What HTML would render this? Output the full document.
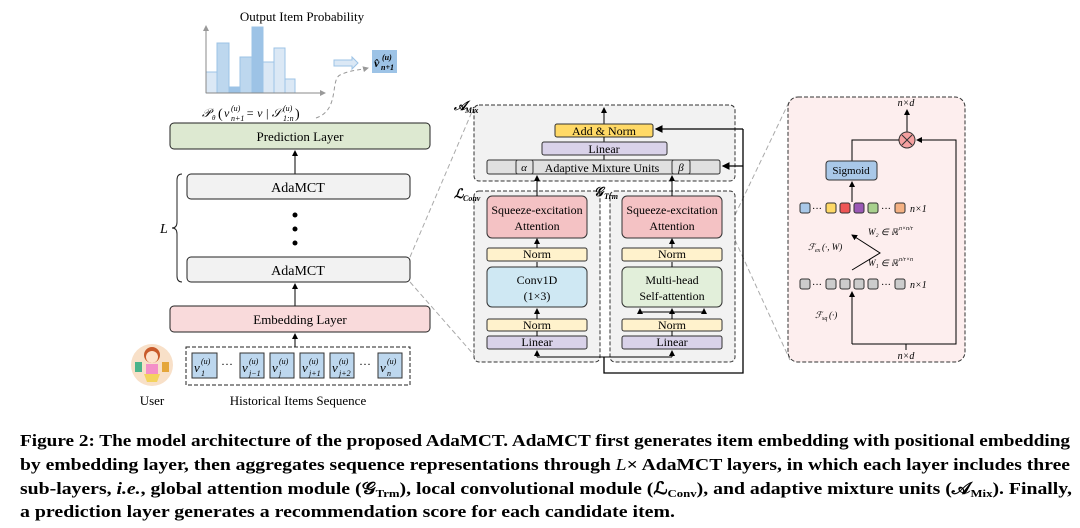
<!DOCTYPE html>
<html><head><meta charset="utf-8"><style>
html,body{margin:0;padding:0;background:#fff;}
svg{display:block;}
text{font-family:"Liberation Serif",serif;}
</style></head><body>
<svg width="1080" height="528" viewBox="0 0 1080 528" xmlns="http://www.w3.org/2000/svg">
<defs>
<marker id="ar" markerWidth="6" markerHeight="6" refX="5" refY="3" orient="auto"><path d="M0,0 L6,3 L0,6 z" fill="#000"/></marker>
<marker id="arg" markerWidth="6" markerHeight="6" refX="5" refY="3" orient="auto"><path d="M0,0 L6,3 L0,6 z" fill="#999"/></marker>
</defs>
<!-- chart -->
<text x="302" y="21" font-size="13" text-anchor="middle">Output Item Probability</text>
<g stroke="#9cc3e6" stroke-width="1">
<rect x="206" y="72" width="11" height="21" fill="#dbe8f5"/>
<rect x="217" y="43" width="12" height="50" fill="#bdd7ee"/>
<rect x="229" y="87" width="11" height="6" fill="#9dc3e6"/>
<rect x="240" y="57" width="12" height="36" fill="#bdd7ee"/>
<rect x="252" y="27" width="11" height="66" fill="#9dc3e6"/>
<rect x="263" y="62" width="11" height="31" fill="#dbe8f5"/>
<rect x="274" y="48" width="11" height="45" fill="#dbe8f5"/>
<rect x="285" y="79" width="10" height="14" fill="#dbe8f5"/>
</g>
<line x1="206" y1="93" x2="206" y2="26" stroke="#888" marker-end="url(#arg)"/>
<line x1="206" y1="93" x2="325" y2="93" stroke="#888" marker-end="url(#arg)"/>
<path d="M334,60 h18 v-3 l6,6 l-6,6 v-3 h-18z" fill="#dbe8f5" stroke="#9cc3e6"/>
<rect x="372" y="50" width="25" height="23" fill="#9dc3e6"/>
<g font-style="italic" font-weight="bold">
<text x="374" y="67" font-size="12">v̂</text>
<text x="382" y="60" font-size="8">(u)</text>
<text x="381" y="70" font-size="8">n+1</text>
</g>
<path d="M316,118 C340,110 330,80 340,75 S360,70 368,68" fill="none" stroke="#999" stroke-dasharray="4,3" marker-end="url(#arg)"/>
<g font-style="italic">
<text x="202" y="117" font-size="12">𝒫</text>
<text x="212" y="120" font-size="7">θ</text>
<text x="218" y="118" font-size="14" font-style="normal">(</text>
<text x="224" y="117" font-size="12">v</text>
<text x="231" y="111" font-size="8">(u)</text>
<text x="231" y="121" font-size="8">n+1</text>
<text x="246" y="117" font-size="12">= v | 𝒮</text>
<text x="283" y="111" font-size="8">(u)</text>
<text x="283" y="121" font-size="8">1:n</text>
<text x="295" y="118" font-size="14" font-style="normal">)</text>
</g>
<!-- stack -->
<rect x="170" y="123" width="260" height="26" rx="4" fill="#dde9d1" stroke="#222"/>
<text x="300" y="141" font-size="13" text-anchor="middle">Prediction Layer</text>
<line x1="295" y1="174" x2="295" y2="151" stroke="#000" marker-end="url(#ar)"/>
<rect x="187" y="174" width="223" height="25" rx="4" fill="#f2f2f2" stroke="#222"/>
<text x="298" y="192" font-size="14" text-anchor="middle">AdaMCT</text>
<circle cx="295" cy="215" r="2.5"/><circle cx="295" cy="229" r="2.5"/><circle cx="295" cy="243" r="2.5"/>
<rect x="187" y="257" width="223" height="25" rx="4" fill="#f2f2f2" stroke="#222"/>
<text x="298" y="275" font-size="14" text-anchor="middle">AdaMCT</text>
<path d="M182,174 q-5,0 -5,6 v42 q0,6 -5,6 q5,0 5,6 v42 q0,6 5,6" fill="none" stroke="#222"/>
<text x="160" y="233" font-size="14" font-style="italic">L</text>
<line x1="295" y1="306" x2="295" y2="284" stroke="#000" marker-end="url(#ar)"/>
<rect x="170" y="306" width="260" height="26" rx="4" fill="#f9dadb" stroke="#222"/>
<text x="300" y="324" font-size="13" text-anchor="middle">Embedding Layer</text>
<line x1="295" y1="347" x2="295" y2="334" stroke="#000" marker-end="url(#ar)"/>
<rect x="186" y="347" width="224" height="38" fill="none" stroke="#222" stroke-dasharray="4,2"/>
<g fill="#bdd7ee" stroke="#333">
<rect x="192" y="353" width="25" height="25"/><rect x="240" y="353" width="24" height="25"/><rect x="270" y="353" width="24" height="25"/><rect x="300" y="353" width="24" height="25"/><rect x="330" y="353" width="24" height="25"/><rect x="378" y="353" width="24" height="25"/>
</g>
<g font-style="italic">
<g font-size="13"><text x="194" y="372">v</text><text x="242" y="372">v</text><text x="272" y="372">v</text><text x="302" y="372">v</text><text x="332" y="372">v</text><text x="380" y="372">v</text></g>
<g font-size="8"><text x="201" y="364">(u)</text><text x="249" y="364">(u)</text><text x="279" y="364">(u)</text><text x="309" y="364">(u)</text><text x="339" y="364">(u)</text><text x="387" y="364">(u)</text></g>
<g font-size="8"><text x="201" y="376">1</text><text x="249" y="376">j−1</text><text x="279" y="376">j</text><text x="309" y="376">j+1</text><text x="339" y="376">j+2</text><text x="387" y="376">n</text></g>
</g>
<text x="221" y="368" font-size="12">···</text><text x="359" y="368" font-size="12">···</text>
<!-- user -->
<circle cx="152" cy="365" r="21" fill="#f8e0c8"/>
<circle cx="152" cy="355" r="8" fill="#c85a2a"/><circle cx="152" cy="357" r="6" fill="#fde2cc"/>
<rect x="146" y="364" width="12" height="10" fill="#f48fc8"/>
<rect x="135" y="362" width="7" height="10" fill="#4ab38a"/><rect x="162" y="362" width="7" height="10" fill="#e5a63a"/>
<path d="M144,374 h16 l-3,8 h-10z" fill="#f4d35e"/>
<text x="152" y="405" font-size="13" text-anchor="middle">User</text>
<text x="298" y="405" font-size="13" text-anchor="middle">Historical Items Sequence</text>
<!-- dashed zoom lines -->
<g stroke="#aaa" stroke-dasharray="5,3" fill="none">
<line x1="410" y1="257" x2="474" y2="107"/>
<line x1="410" y1="282" x2="474" y2="355"/>
<line x1="735" y1="215" x2="790" y2="100"/>
<line x1="735" y1="240" x2="790" y2="360"/>
</g>
<!-- middle -->
<rect x="474" y="105" width="261" height="76" rx="5" fill="#f2f2f2" stroke="#333" stroke-dasharray="4,2"/>
<rect x="474" y="191" width="126" height="171" rx="5" fill="#f2f2f2" stroke="#333" stroke-dasharray="4,2"/>
<rect x="610" y="191" width="125" height="171" rx="5" fill="#f2f2f2" stroke="#333" stroke-dasharray="4,2"/>
<g font-weight="bold" font-style="italic">
<text x="454" y="110" font-size="13">𝒜</text><text x="465" y="113" font-size="8">Mix</text>
<text x="454" y="198" font-size="13">ℒ</text><text x="463" y="201" font-size="8">Conv</text>
<text x="594" y="196" font-size="13">𝒢</text><text x="604" y="199" font-size="8">Trm</text>
</g>
<line x1="604" y1="125" x2="604" y2="108" stroke="#000" marker-end="url(#ar)"/>
<rect x="555" y="124" width="98" height="13" rx="2" fill="#ffd966" stroke="#333"/>
<text x="604" y="135" font-size="12" text-anchor="middle">Add &amp; Norm</text>
<line x1="604" y1="142" x2="604" y2="137" stroke="#000"/>
<rect x="542" y="142" width="125" height="13" rx="2" fill="#d9d2e9" stroke="#333"/>
<text x="604" y="153" font-size="12" text-anchor="middle">Linear</text>
<line x1="604" y1="160" x2="604" y2="155" stroke="#000"/>
<rect x="487" y="160" width="233" height="14" rx="2" fill="#e0e0e0" stroke="#333"/>
<rect x="516" y="160" width="17" height="14" rx="2" fill="#e0e0e0" stroke="#333"/>
<rect x="672" y="160" width="18" height="14" rx="2" fill="#e0e0e0" stroke="#333"/>
<text x="524" y="171" font-size="11" text-anchor="middle" font-style="italic">α</text>
<text x="681" y="171" font-size="11" text-anchor="middle" font-style="italic">β</text>
<text x="602" y="172" font-size="12" text-anchor="middle">Adaptive Mixture Units</text>
<g id="col">
<rect x="487" y="196" width="100" height="42" rx="5" fill="#f4c2c4" stroke="#333"/>
<rect x="487" y="248" width="100" height="13" rx="2" fill="#fff2cc" stroke="#333"/>
<rect x="487" y="319" width="100" height="12" rx="2" fill="#fff2cc" stroke="#333"/>
<rect x="487" y="336" width="100" height="13" rx="2" fill="#d9d2e9" stroke="#333"/>
<text x="537" y="258" font-size="12" text-anchor="middle">Norm</text>
<text x="537" y="329" font-size="12" text-anchor="middle">Norm</text>
<text x="537" y="346" font-size="12" text-anchor="middle">Linear</text>
<text x="537" y="214" font-size="12" text-anchor="middle">Squeeze-excitation</text>
<text x="537" y="230" font-size="12" text-anchor="middle">Attention</text>
<line x1="537" y1="248" x2="537" y2="239" stroke="#000" marker-end="url(#ar)"/>
<line x1="537" y1="336" x2="537" y2="331" stroke="#000"/>
<line x1="537" y1="196" x2="537" y2="176" stroke="#000" marker-end="url(#ar)"/>
</g>
<use href="#col" x="135"/>
<rect x="487" y="267" width="100" height="40" rx="5" fill="#cfe8f3" stroke="#333"/>
<text x="537" y="284" font-size="12" text-anchor="middle">Conv1D</text>
<text x="537" y="300" font-size="12" text-anchor="middle">(1×3)</text>
<line x1="537" y1="267" x2="537" y2="262" stroke="#000"/>
<line x1="537" y1="319" x2="537" y2="309" stroke="#000" marker-end="url(#ar)"/>
<rect x="622" y="267" width="100" height="40" rx="5" fill="#e2efda" stroke="#333"/>
<text x="672" y="284" font-size="12" text-anchor="middle">Multi-head</text>
<text x="672" y="300" font-size="12" text-anchor="middle">Self-attention</text>
<line x1="672" y1="267" x2="672" y2="262" stroke="#000"/>
<path d="M672,319 v-7 M640,312 h64" stroke="#000" fill="none"/>
<line x1="640" y1="312" x2="640" y2="309" stroke="#000" marker-end="url(#ar)"/>
<line x1="672" y1="312" x2="672" y2="309" stroke="#000" marker-end="url(#ar)"/>
<line x1="704" y1="312" x2="704" y2="309" stroke="#000" marker-end="url(#ar)"/>
<path d="M537,357 h135" stroke="#000" fill="none"/>
<line x1="537" y1="357" x2="537" y2="351" stroke="#000" marker-end="url(#ar)"/>
<line x1="672" y1="357" x2="672" y2="351" stroke="#000" marker-end="url(#ar)"/>
<path d="M604,357 v16 h139 v-244" stroke="#000" fill="none" stroke-width="1.3"/>
<line x1="743" y1="129" x2="656" y2="129" stroke="#000" stroke-width="1.3" marker-end="url(#ar)"/>
<line x1="743" y1="166" x2="723" y2="166" stroke="#000" stroke-width="1.3" marker-end="url(#ar)"/>
<!-- right panel -->
<rect x="788" y="97" width="177" height="265" rx="10" fill="#fdeeee" stroke="#333" stroke-dasharray="4,2"/>
<text x="906" y="106" font-size="10" text-anchor="middle" font-style="italic">n×d</text>
<line x1="907" y1="132" x2="907" y2="110" stroke="#000" marker-end="url(#ar)"/>
<circle cx="907" cy="140" r="8" fill="#f4a0a0" stroke="#333"/>
<path d="M902,135 l10,10 M912,135 l-10,10" stroke="#333"/>
<path d="M852,161 v-21 h47" stroke="#000" fill="none"/>
<rect x="826" y="161" width="51" height="19" rx="3" fill="#a9c8e8" stroke="#333"/>
<text x="851" y="174" font-size="11" text-anchor="middle">Sigmoid</text>
<line x1="852" y1="202" x2="852" y2="182" stroke="#000" marker-end="url(#ar)"/>
<g stroke="#333">
<rect x="800" y="203" width="10" height="10" rx="2" fill="#a9c8e8"/>
<rect x="826" y="203" width="10" height="10" rx="2" fill="#ffd966"/>
<rect x="840" y="203" width="10" height="10" rx="2" fill="#ee5555"/>
<rect x="854" y="203" width="10" height="10" rx="2" fill="#9b59b6"/>
<rect x="868" y="203" width="10" height="10" rx="2" fill="#a9d18e"/>
<rect x="895" y="203" width="10" height="10" rx="2" fill="#f4b183"/>
<g fill="#ccc">
<rect x="800" y="279" width="10" height="10" rx="2"/><rect x="826" y="279" width="10" height="10" rx="2"/><rect x="840" y="279" width="10" height="10" rx="2"/><rect x="854" y="279" width="10" height="10" rx="2"/><rect x="868" y="279" width="10" height="10" rx="2"/><rect x="895" y="279" width="10" height="10" rx="2"/>
</g></g>
<g font-size="10"><text x="812" y="212">···</text><text x="881" y="212">···</text><text x="812" y="288">···</text><text x="881" y="288">···</text></g>
<g font-size="10" font-style="italic"><text x="910" y="212">n×1</text><text x="910" y="288">n×1</text></g>
<path d="M852,270 l28,-17 l-28,-18" stroke="#000" fill="none" marker-end="url(#ar)"/>
<g font-style="italic">
<text x="868" y="235" font-size="9">W₂ ∈ ℝ</text><text x="899" y="230" font-size="6">n×n/r</text>
<text x="868" y="266" font-size="9">W₁ ∈ ℝ</text><text x="899" y="261" font-size="6">n/r×n</text>
<text x="808" y="250" font-size="9">ℱ</text><text x="815" y="252" font-size="6">ex</text><text x="822" y="250" font-size="9">(·, W)</text>
<text x="815" y="318" font-size="9">ℱ</text><text x="822" y="320" font-size="6">sq</text><text x="829" y="318" font-size="9">(·)</text>
</g>
<path d="M906,350 v-6 M852,344 h104 v-204 h-38" stroke="#000" fill="none"/>
<line x1="852" y1="344" x2="852" y2="292" stroke="#000" marker-end="url(#ar)"/>
<line x1="925" y1="140" x2="917" y2="140" stroke="#000" marker-end="url(#ar)"/>
<text x="906" y="359" font-size="10" text-anchor="middle" font-style="italic">n×d</text>
<!-- caption -->
<g font-size="17" font-weight="bold">
<text x="20" y="446" textLength="1050" lengthAdjust="spacingAndGlyphs">Figure 2: The model architecture of the proposed AdaMCT. AdaMCT first generates item embedding with positional embedding</text>
<text x="20" y="470" textLength="1050" lengthAdjust="spacingAndGlyphs">by embedding layer, then aggregates sequence representations through <tspan font-style="italic" font-weight="normal">L</tspan>× AdaMCT layers, in which each layer includes three</text>
<text x="20" y="494" textLength="1052" lengthAdjust="spacingAndGlyphs">sub-layers, <tspan font-style="italic">i.e.</tspan>, global attention module (𝒢<tspan font-size="11" dy="3">Trm</tspan><tspan dy="-3">), local convolutional module (ℒ</tspan><tspan font-size="11" dy="3">Conv</tspan><tspan dy="-3">), and adaptive mixture units (𝒜</tspan><tspan font-size="11" dy="3">Mix</tspan><tspan dy="-3">). Finally,</tspan></text>
<text x="20" y="517" textLength="655" lengthAdjust="spacingAndGlyphs">a prediction layer generates a recommendation score for each candidate item.</text>
</g>
</svg>
</body></html>
